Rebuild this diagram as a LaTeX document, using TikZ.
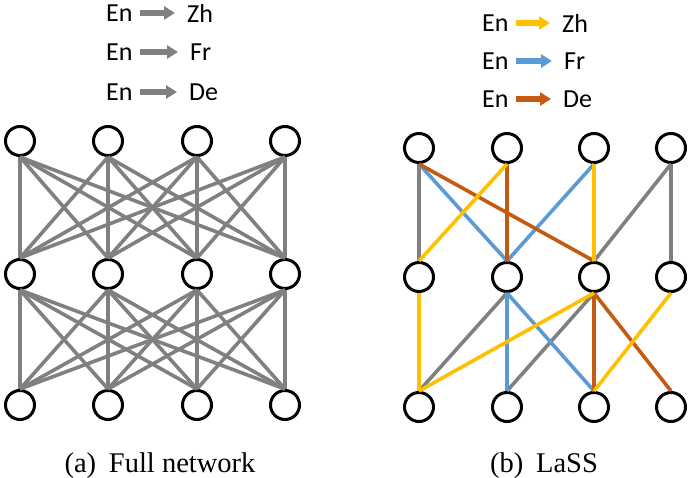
\documentclass[tikz,border=0pt]{standalone}
\usepackage{fontspec}
\setmainfont{Liberation Serif}
\newfontfamily\legendfont{Carlito}
\usetikzlibrary{arrows.meta,positioning}

\definecolor{zhyellow}{RGB}{255,192,0}
\definecolor{frblue}{RGB}{91,155,213}
\definecolor{debrown}{RGB}{197,90,17}
\definecolor{linkgray}{RGB}{128,128,128}

\tikzset{
  neuron/.style={circle,draw=black,line width=3pt,minimum size=29pt,inner sep=0pt,fill=white},
  link/.style={line width=3.6pt,linkgray},
  lang/.style={font=\legendfont\fontsize{26}{26}\selectfont,inner sep=0pt,anchor=west},
  langarrow/.style={line width=5.5pt,-{Triangle[width=13pt,length=11pt]},shorten <=7pt,shorten >=12pt},
  caption/.style={font=\fontsize{28.5}{28.5}\selectfont,inner sep=0pt,anchor=base}
}

\begin{document}
\begin{tikzpicture}[x=1pt,y=1pt,yscale=-1]
  \useasboundingbox (0,0) rectangle (690,478);

  % Legend, full network
  \node[lang] (fsrczh) at (106,13) {En};
  \node[lang] (ftgtzh) at (187,13) {Zh};
  \node[lang] (fsrcfr) at (106,52) {En};
  \node[lang] (ftgtfr) at (190,52) {Fr};
  \node[lang] (fsrcde) at (106,92) {En};
  \node[lang] (ftgtde) at (189,92) {De};
  \draw[langarrow,linkgray] (fsrczh) -- (ftgtzh);
  \draw[langarrow,linkgray] (fsrcfr) -- (ftgtfr);
  \draw[langarrow,linkgray] (fsrcde) -- (ftgtde);

  % Legend, LaSS
  \node[lang] (lsrczh) at (482,23) {En};
  \node[lang] (ltgtzh) at (562,23) {Zh};
  \node[lang] (lsrcfr) at (482,61) {En};
  \node[lang] (ltgtfr) at (564,61) {Fr};
  \node[lang] (lsrcde) at (482,99) {En};
  \node[lang] (ltgtde) at (563,99) {De};
  \draw[langarrow,zhyellow] (lsrczh) -- (ltgtzh);
  \draw[langarrow,frblue] (lsrcfr) -- (ltgtfr);
  \draw[langarrow,debrown] (lsrcde) -- (ltgtde);

  % Full network
  \foreach \x [count=\i] in {20,108,197,285} {
    \node[neuron] (ft\i) at (\x,141) {};
    \node[neuron] (fm\i) at (\x,274) {};
    \node[neuron] (fb\i) at (\x,405) {};
  }
  \foreach \i in {1,...,4}
    \foreach \j in {1,...,4} {
      \draw[link] (ft\i.south) -- (fm\j.north);
      \draw[link] (fm\i.south) -- (fb\j.north);
    }

  % LaSS
  \foreach \x [count=\i] in {419,507,594,671} {
    \node[neuron] (lt\i) at (\x,148) {};
    \node[neuron] (lm\i) at (\x,277) {};
    \node[neuron] (lb\i) at (\x,407) {};
  }
  \foreach \a/\b/\c in {1/1/linkgray,4/3/linkgray,4/4/linkgray,1/2/frblue,3/2/frblue,
                        1/3/debrown,2/2/debrown,2/1/zhyellow,3/3/zhyellow}
    \draw[link,\c] (lt\a.south) -- (lm\b.north);
  \foreach \a/\b/\c in {2/1/linkgray,3/2/linkgray,2/2/frblue,2/3/frblue,
                        3/3/debrown,3/4/debrown,1/1/zhyellow,3/1/zhyellow,4/3/zhyellow}
    \draw[link,\c] (lm\a.south) -- (lb\b.north);

  % Captions
  \node[caption] (capfull) at (160,472) {(a)\hspace{0.45em}Full network};
  \node[caption] (caplass) at (544,472) {(b)\hspace{0.45em}LaSS};
\end{tikzpicture}
\end{document}
